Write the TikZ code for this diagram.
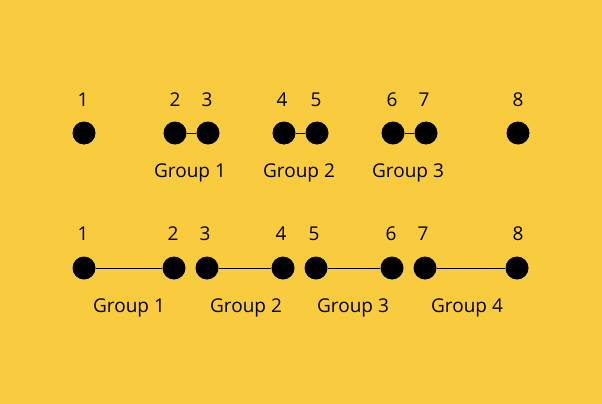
\documentclass[tikz,border=0pt]{standalone}
\usepackage{fontspec}
\setmainfont{Open Sans}
\definecolor{bgyellow}{RGB}{249,203,62}
\begin{document}
\begin{tikzpicture}[x=1pt,y=-1pt,
	dot/.style={circle, fill=black, inner sep=0pt, minimum size=23pt},
	lbl/.style={anchor=base, inner sep=0pt, font=\fontsize{19}{19}\selectfont}]

	\fill[bgyellow] (0,0) rectangle (602,404);
	\useasboundingbox (0,0) rectangle (602,404);

	% top row
	\node 	(t1)	at	(84,133)	[dot]{};
	\node 	(t2)	at	(175,133)	[dot]{};
	\node 	(t3)	at	(208,133)	[dot]{};
	\node 	(t4)	at	(284,133)	[dot]{};
	\node 	(t5)	at	(317,133)	[dot]{};
	\node 	(t6)	at	(393,133)	[dot]{};
	\node 	(t7)	at	(426,133)	[dot]{};
	\node 	(t8)	at	(518,133)	[dot]{};

	\node 	(tn1)	at	(83,106)	[lbl]{1};
	\node 	(tn2)	at	(175,106)	[lbl]{2};
	\node 	(tn3)	at	(207,106)	[lbl]{3};
	\node 	(tn4)	at	(282,106)	[lbl]{4};
	\node 	(tn5)	at	(316,106)	[lbl]{5};
	\node 	(tn6)	at	(392,106)	[lbl]{6};
	\node 	(tn7)	at	(424,106)	[lbl]{7};
	\node 	(tn8)	at	(518,106)	[lbl]{8};

	\node 	(tg1)	at	(190,177)	[lbl]{Group 1};
	\node 	(tg2)	at	(299,177)	[lbl]{Group 2};
	\node 	(tg3)	at	(408,177)	[lbl]{Group 3};

	\draw[thin]	(t2)	--	(t3);
	\draw[thin]	(t4)	--	(t5);
	\draw[thin]	(t6)	--	(t7);

	% bottom row
	\node 	(b1)	at	(84,268)	[dot]{};
	\node 	(b2)	at	(174,268)	[dot]{};
	\node 	(b3)	at	(207,268)	[dot]{};
	\node 	(b4)	at	(283,268)	[dot]{};
	\node 	(b5)	at	(316,268)	[dot]{};
	\node 	(b6)	at	(392,268)	[dot]{};
	\node 	(b7)	at	(425,268)	[dot]{};
	\node 	(b8)	at	(517,268)	[dot]{};

	\node 	(bn1)	at	(83,240)	[lbl]{1};
	\node 	(bn2)	at	(173,240)	[lbl]{2};
	\node 	(bn3)	at	(205,240)	[lbl]{3};
	\node 	(bn4)	at	(281,240)	[lbl]{4};
	\node 	(bn5)	at	(314,240)	[lbl]{5};
	\node 	(bn6)	at	(391,240)	[lbl]{6};
	\node 	(bn7)	at	(423,240)	[lbl]{7};
	\node 	(bn8)	at	(518,240)	[lbl]{8};

	\node 	(bg1)	at	(129,312)	[lbl]{Group 1};
	\node 	(bg2)	at	(246,312)	[lbl]{Group 2};
	\node 	(bg3)	at	(353,312)	[lbl]{Group 3};
	\node 	(bg4)	at	(467,312)	[lbl]{Group 4};

	\draw[thin]	(b1)	--	(b2);
	\draw[thin]	(b3)	--	(b4);
	\draw[thin]	(b5)	--	(b6);
	\draw[thin]	(b7)	--	(b8);

\end{tikzpicture}
\end{document}
